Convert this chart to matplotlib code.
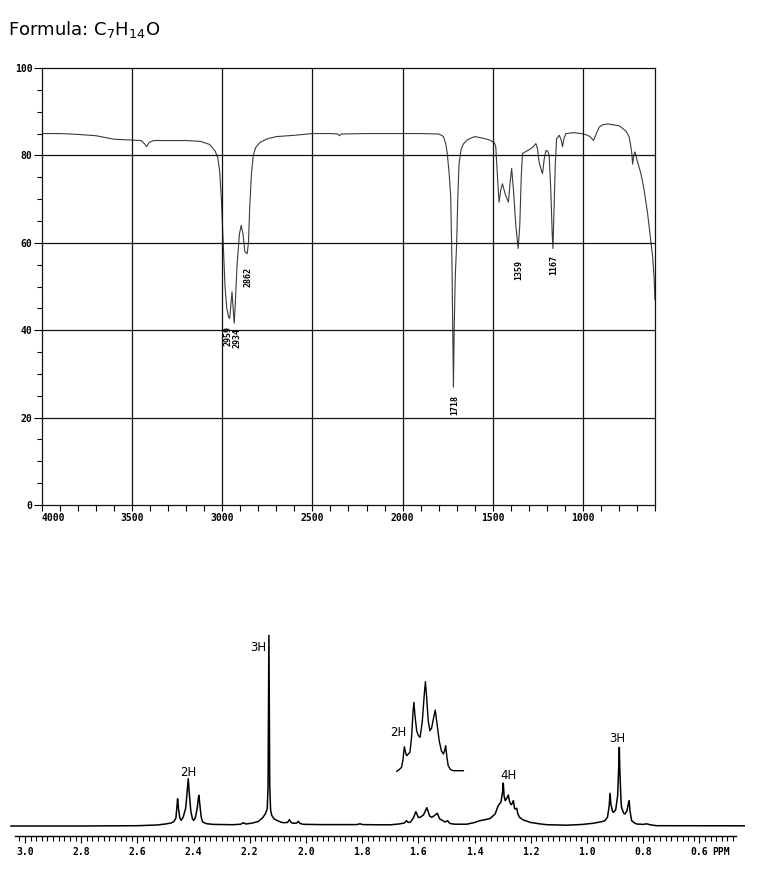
import numpy as np
import matplotlib.pyplot as plt
from matplotlib.ticker import MultipleLocator

# IR-Spektrum (Wellenzahl in cm-1, Transmission in %)
ir_wn = [4000, 3900, 3800, 3700, 3600, 3500, 3450, 3430, 3420, 3405, 3380, 3300, 3200,
         3120, 3070, 3040, 3025, 3015, 3005, 2995, 2985, 2975, 2965, 2959, 2952, 2946,
         2940, 2934, 2928, 2918, 2905, 2895, 2885, 2875, 2862, 2855, 2848, 2838, 2828,
         2815, 2790, 2750, 2700, 2600, 2500, 2400, 2360, 2350, 2340, 2200, 2000, 1900,
         1800, 1780, 1772, 1760, 1752, 1742, 1733, 1726, 1722, 1718, 1714, 1708, 1700,
         1694, 1687, 1675, 1661, 1640, 1600, 1585, 1540, 1511, 1490, 1483, 1475, 1465,
         1456, 1446, 1430, 1413, 1403, 1395, 1385, 1372, 1359, 1350, 1342, 1335, 1320,
         1307, 1290, 1275, 1261, 1252, 1243, 1233, 1224, 1215, 1205, 1195, 1187, 1178,
         1170, 1166, 1160, 1153, 1146, 1131, 1120, 1113, 1104, 1094, 1050, 1011, 990,
         974, 960, 941, 925, 909, 890, 863, 830, 800, 789, 760, 743, 730, 724, 718, 711,
         700, 678, 660, 641, 625, 613, 605, 600]
ir_t = [85.0, 85.0, 84.8, 84.5, 83.7, 83.5, 83.4, 82.6, 82.0, 83.0, 83.4, 83.4, 83.4,
        83.2, 82.5, 81.0, 79.5, 76.5, 70, 60, 50, 45, 43, 42.7, 46, 48.8,
        45, 41.6, 46, 55, 62, 64, 62, 58, 57.5, 60, 68, 76, 80,
        81.8, 83, 83.8, 84.3, 84.6, 85, 85, 84.9, 84.5, 84.9, 85, 85, 85,
        84.9, 84.5, 84.2, 82.5, 80.4, 76, 70.5, 55, 40, 27, 40, 52, 60,
        70, 78, 81.5, 82.7, 83.6, 84.3, 84.2, 83.8, 83.4, 82.8, 81.9, 76, 69.3,
        72, 73.5, 71, 69.3, 74, 77, 72, 64, 58.7, 64, 75, 80.4, 80.8,
        81.1, 81.5, 82, 82.7, 81.5, 78.5, 77, 75.8, 79, 81.1, 81, 80, 72,
        62, 58.7, 68, 78, 83.8, 84.6, 83.5, 82, 84, 85, 85.2, 85, 84.8,
        84.6, 84.3, 83.4, 85, 86.5, 87, 87.2, 87, 86.8, 86.5, 85.5, 84.2, 81, 78, 80, 80.8,
        79, 75.8, 72, 66.7, 61, 56.8, 52, 46.9]

# Beschriftete Banden (Text, x-Position in cm-1, Oberkante in %)
ir_peak_labels = ['2959', '2934', '2862', '1718', '1359', '1167']
ir_label_wn = [2967, 2917, 2857, 1713, 1353, 1163]
ir_label_top = [41.0, 40.5, 54.5, 25.1, 56.0, 57.1]

# 1H-NMR-Spektrum (chemische Verschiebung in ppm, Intensitaet)
nmr_ppm = [3.05, 2.80, 2.60, 2.53, 2.50, 2.48, 2.47, 2.463, 2.459, 2.457, 2.454, 2.449,
           2.444, 2.437, 2.428, 2.422, 2.419, 2.416, 2.41, 2.404, 2.400, 2.394, 2.387,
           2.383, 2.381, 2.378, 2.373, 2.368, 2.354, 2.33, 2.26, 2.232, 2.223, 2.214,
           2.19, 2.17, 2.155, 2.145, 2.138, 2.135, 2.132, 2.129, 2.126, 2.122, 2.113,
           2.104, 2.09, 2.081, 2.066, 2.059, 2.053, 2.045, 2.033, 2.027, 2.021, 2.010,
           1.95, 1.82, 1.808, 1.798, 1.74, 1.70, 1.67, 1.650, 1.642, 1.636, 1.628,
           1.618, 1.609, 1.600, 1.594, 1.582, 1.570, 1.560, 1.553, 1.545, 1.533, 1.524,
           1.517, 1.505, 1.496, 1.488, 1.47, 1.428, 1.40, 1.381, 1.36, 1.345, 1.335,
           1.327, 1.316, 1.306, 1.300, 1.298, 1.295, 1.291, 1.285, 1.280, 1.275, 1.270,
           1.265, 1.262, 1.258, 1.256, 1.250, 1.246, 1.240, 1.227, 1.215, 1.203, 1.17,
           1.143, 1.072, 1.02, 0.978, 0.95, 0.936, 0.927, 0.921, 0.918, 0.915, 0.909,
           0.906, 0.898, 0.891, 0.887, 0.885, 0.883, 0.879, 0.877, 0.870, 0.865, 0.858,
           0.853, 0.850, 0.847, 0.841, 0.830, 0.823, 0.80, 0.788, 0.775, 0.752, 0.60, 0.44]
nmr_int = [0, 0, 0.3, 1, 2, 3, 4.5, 8, 20, 27.3, 18, 8,
           5.7, 9, 18, 38, 47.3, 35, 15, 7, 5.7, 8, 18,
           28, 30.7, 22, 9, 4, 2.3, 1.6, 1.3, 1.8, 3.3, 2,
           3, 4.5, 8, 12, 17, 40, 190.7, 40, 16, 10.7, 7,
           5.7, 4, 3.3, 3.5, 6.3, 3.5, 2.7, 3, 4.7, 2.5, 1.7,
           1.4, 1.4, 2.2, 1.4, 1.2, 1.2, 2.0, 3, 5.3, 3.5, 4,
           8, 14.3, 8.5, 8.7, 11, 18.3, 10, 8.7, 10, 12.7, 7,
           6, 4, 5.3, 2.5, 1.8, 1.8, 3.5, 5.3, 6.5, 7.5, 10,
           12, 20.3, 24, 35, 43, 30, 25.3, 28, 31, 24, 21.3,
           23, 25.3, 18, 17, 17.7, 12, 8.7, 6, 5, 3.7, 2.2,
           1.3, 0.8, 1.5, 2.7, 4.2, 5.3, 9, 20, 32.7, 22, 14.5,
           13.7, 16, 30, 60, 78.7, 55, 25, 18.7, 13, 12, 15,
           22, 25.3, 15, 5.3, 2.8, 2, 1.6, 2.2, 1.2, 0.3, 0.2, 0.2]

# Vergroesserter Ausschnitt des Multipletts bei 1.58 ppm
inset_ppm = [1.677, 1.668, 1.660, 1.655, 1.650, 1.646, 1.642, 1.636, 1.630, 1.624, 1.619,
             1.616, 1.612, 1.606, 1.600, 1.594, 1.586, 1.579, 1.575, 1.571, 1.565, 1.559,
             1.553, 1.546, 1.540, 1.535, 1.526, 1.518, 1.511, 1.507, 1.503, 1.499, 1.494,
             1.486, 1.476, 1.440]
inset_int = [54.7, 56.5, 58.7, 66, 79.3, 74, 70.3, 72, 73.7, 90, 115,
             123.7, 110, 95, 90.3, 88.7, 105, 132, 144.3, 130, 105, 95.3,
             98, 108, 116, 105, 85.3, 75, 72, 75, 80.3, 70, 60.3,
             56.5, 55.3, 55.3]

# Integrale (Beschriftung, ppm, Hoehe der Textmitte)
h_labels = ['2H', '3H', '2H', '4H', '3H']
h_ppm = [2.42, 2.17, 1.671, 1.279, 0.891]
h_pos = [54, 179, 93.5, 51, 87.5]

W, H = 762, 872
fig = plt.figure(figsize=(W / 100, H / 100), dpi=100)

fig.text(8 / W, 1 - 30 / H, 'Formula: C$_7$H$_{14}$O', fontsize=13, va='center', ha='left')

mono = dict(family='DejaVu Sans Mono', weight='bold')

# ---------- IR ----------
ax = fig.add_axes([42 / W, 1 - 505 / H, 613 / W, 437 / H])
ax.plot(ir_wn, ir_t, color='#3a3a3a', lw=0.8)
ax.set_xlim(4000, 600)
ax.set_ylim(0, 100)
for g in [20, 40, 60, 80]:
    ax.axhline(g, color='#111111', lw=0.9)
for g in [3500, 3000, 2500, 2000, 1500, 1000]:
    ax.axvline(g, color='#111111', lw=0.9)
for s in ax.spines.values():
    s.set_color('#111111')
    s.set_linewidth(0.9)
ax.set_yticks([0, 20, 40, 60, 80, 100])
ax.set_yticklabels(['0', '20', '40', '60', '80', '100'], fontsize=7, **mono)
ax.yaxis.set_minor_locator(MultipleLocator(5))
ax.tick_params(axis='y', which='major', length=6, width=0.8, pad=1)
ax.tick_params(axis='y', which='minor', length=3.5, width=0.8)
ax.set_xticks([4000, 3500, 3000, 2500, 2000, 1500, 1000])
ax.set_xticklabels(['4000', '3500', '3000', '2500', '2000', '1500', '1000'], fontsize=7, **mono)
ax.get_xticklabels()[0].set_ha('left')
ax.xaxis.set_minor_locator(MultipleLocator(100))
ax.tick_params(axis='x', which='both', length=4, width=0.8, pad=2)
for lab, wn, top in zip(ir_peak_labels, ir_label_wn, ir_label_top):
    ax.text(wn, top, lab, rotation=90, ha='center', va='top', fontsize=6, **mono)

# ---------- NMR ----------
bx = fig.add_axes([10 / W, 1 - 845 / H, 735 / W, 225 / H])
bx.plot(nmr_ppm, nmr_int, color='black', lw=1.1)
bx.plot(inset_ppm, inset_int, color='black', lw=1.0)
bx.set_xlim(3.0534, 0.4377)
bx.set_ylim(-19, 206)
for k in ['top', 'left', 'right']:
    bx.spines[k].set_visible(False)
bx.spines['bottom'].set_position(('data', -10))
bx.spines['bottom'].set_bounds(3.035, 0.47)
bx.spines['bottom'].set_linewidth(1.0)
bx.set_yticks([])
bx.set_xticks(np.arange(3.0, 0.55, -0.2))
bx.set_xticklabels(['3.0', '2.8', '2.6', '2.4', '2.2', '2.0', '1.8', '1.6', '1.4', '1.2',
                    '1.0', '0.8', '0.6'], fontsize=7, **mono)
bx.set_xticks(np.arange(3.02, 0.47, -0.02), minor=True)
bx.tick_params(axis='x', which='major', length=5, width=0.8, pad=3)
bx.tick_params(axis='x', which='minor', length=3.5, width=0.8)
bx.text(0.553, -26, 'PPM', fontsize=7, ha='left', va='center', **mono)
for lab, p, y in zip(h_labels, h_ppm, h_pos):
    bx.text(p, y, lab, fontsize=8.5, ha='center', va='center')

fig.savefig('out.png', dpi=100)
